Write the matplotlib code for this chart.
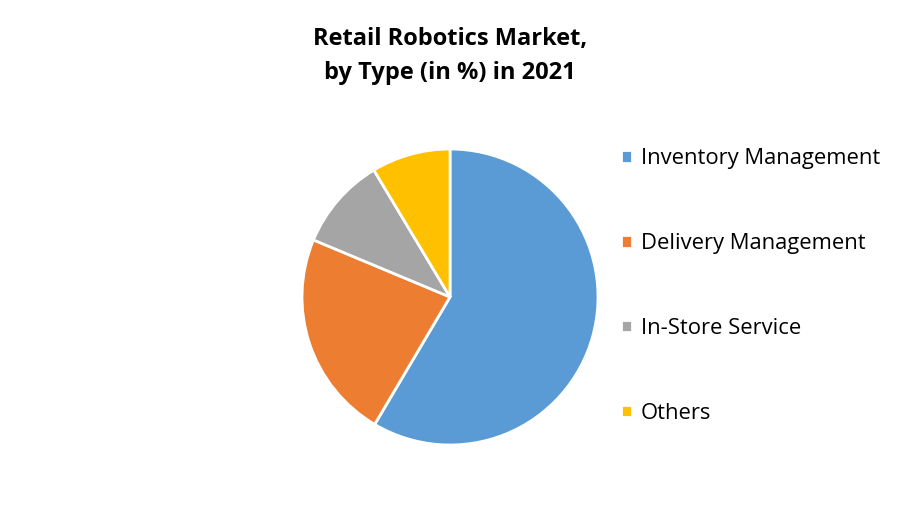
import matplotlib.pyplot as plt

types = ['Inventory Management', 'Delivery Management', 'In-Store Service', 'Others']
shares = [58.5, 22.8, 10.1, 8.6]
colors = ['#5B9BD5', '#ED7D31', '#A5A5A5', '#FFC000']

plt.rcParams['font.family'] = ['Open Sans', 'DejaVu Sans']

fig = plt.figure(figsize=(9, 5.25), dpi=100)
ax = fig.add_axes([(450 - 148) / 900, (525 - 297 - 148) / 525, 296 / 900, 296 / 525])

wedges, _ = ax.pie(shares, colors=colors, startangle=90, counterclock=False,
                   wedgeprops=dict(edgecolor='white', linewidth=2))
ax.set_xlim(-1.0, 1.0)
ax.set_ylim(-1.0, 1.0)
ax.set_aspect('equal')

fig.text(0.5, 1 - 56 / 525, 'Retail Robotics Market,\nby Type (in %) in 2021',
         ha='center', va='center', fontsize=17, fontweight='bold', linespacing=1.6)

fig.legend(wedges, types, loc='center left', bbox_to_anchor=(612 / 900, 1 - 286 / 525),
           frameon=False, fontsize=15.8, handlelength=0.5, handleheight=0.5,
           handletextpad=0.4, labelspacing=2.91, borderaxespad=0)

plt.savefig('out.png')
